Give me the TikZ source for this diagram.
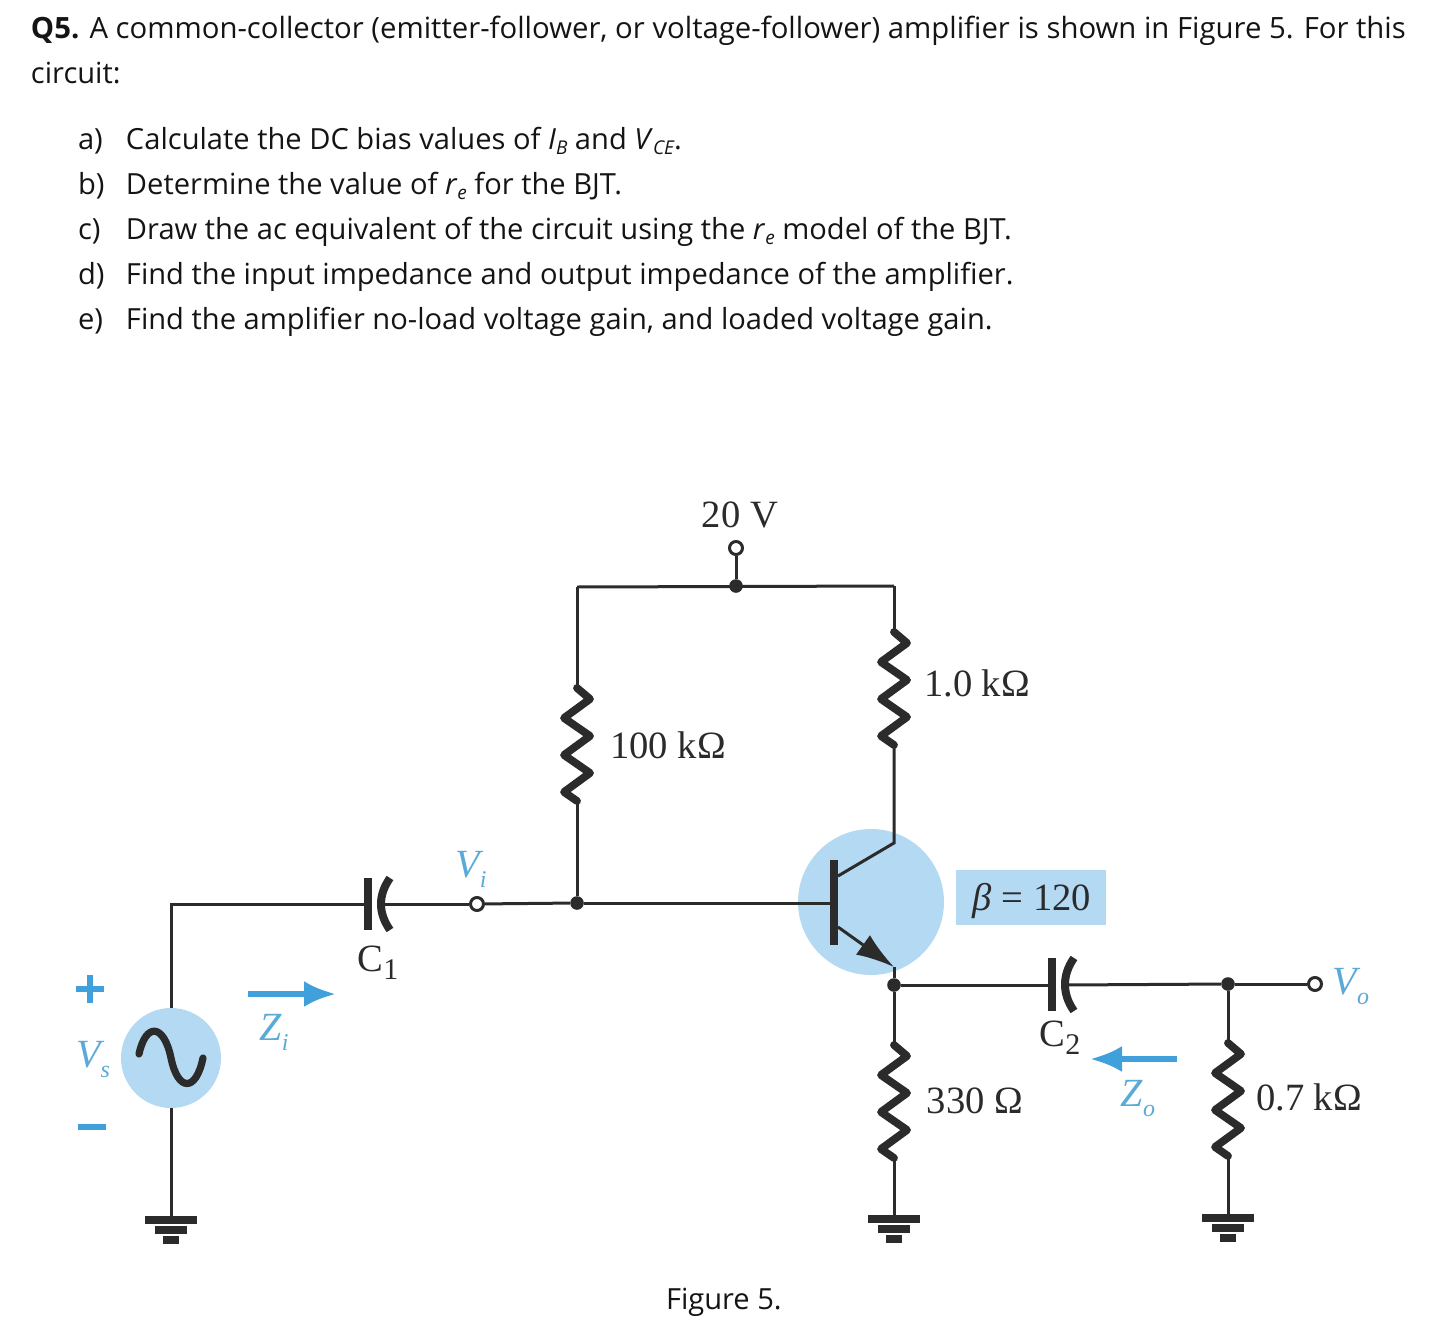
\documentclass[tikz,border=0pt]{standalone}
\usepackage{fontspec}
\setmainfont{Open Sans}
\newfontfamily\serf{Liberation Serif}
\usetikzlibrary{arrows.meta}
\definecolor{wirec}{HTML}{2B2B2B}
\definecolor{paleb}{HTML}{B4DAF3}
\definecolor{bluea}{HTML}{3FA0DC}
\definecolor{bluet}{HTML}{5AAAD8}
\newcommand{\subsm}[1]{\raisebox{-0.2em}{\fontsize{9.5}{10}\selectfont\itshape #1}}
\tikzset{
  x=0.5pt,y=-0.5pt,
  wire/.style={draw=wirec,line width=1.5pt,line join=miter},
  body/.style={anchor=base west,inner sep=0pt,outer sep=0pt,font=\fontsize{14.55}{18}\selectfont,text=black!92},
  lab/.style={inner sep=0pt,font=\serf\fontsize{19.3}{20}\selectfont,text=wirec},
  bluelab/.style={inner sep=0pt,font=\serf\fontsize{20}{20}\selectfont\itshape,text=bluet},
  dotn/.style={circle,fill=wirec,inner sep=0pt,minimum size=6.8pt},
  term/.style={circle,draw=wirec,fill=white,line width=1.5pt,inner sep=0pt,minimum size=6.5pt},
  zarrow/.style={draw=bluea,line width=2.8pt,-{Latex[length=16pt,width=13pt]}},
  plate/.style={draw=wirec,line width=4pt},
  resistor/.pic={
    \draw[draw=wirec,line width=3.9pt,line join=round,line cap=round]
      (0,0)--(13,11)--(-13,30)--(13,48)--(-13,67)--(13,85)--(-13,104)--(0,113);
    \coordinate (-t) at (0,0);
    \coordinate (-b) at (0,113);
  },
  groundsym/.pic={
    \coordinate (-t) at (0,0);
    \draw[draw=wirec,line width=4pt] (-26,0)--(26,0);
    \draw[draw=wirec,line width=4pt] (-16,10)--(16,10);
    \draw[draw=wirec,line width=4pt] (-8,20)--(8,20);
  },
}
\begin{document}
\begin{tikzpicture}
\useasboundingbox (0,0) rectangle (1432,1328);
% question text
\node[body,font=\fontsize{14.65}{18}\selectfont] (q1) at (31,38) {\textbf{Q5.} A common-collector (emitter-follower, or voltage-follower) amplifier is shown in Figure 5. For this};
\node[body] (q2) at (31,83) {circuit:};
\node[body] (la) at (78,149) {a)};
\node[body] (ta) at (126,149) {Calculate the DC bias values of \textit{I}\subsm{B} and \textit{V}\subsm{CE}.};
\node[body] (lb) at (78,194) {b)};
\node[body] (tb) at (126,194) {Determine the value of \textit{r}\subsm{e} for the BJT.};
\node[body] (lc) at (78,239) {c)};
\node[body] (tc) at (126,239) {Draw the ac equivalent of the circuit using the \textit{r}\subsm{e} model of the BJT.};
\node[body] (ld) at (78,284) {d)};
\node[body] (td) at (126,284) {Find the input impedance and output impedance of the amplifier.};
\node[body] (le) at (78,329) {e)};
\node[body] (te) at (126,329) {Find the amplifier no-load voltage gain, and loaded voltage gain.};
\node[body] (fig) at (666,1309) {Figure 5.};
% pale backgrounds
\node[circle,fill=paleb,minimum size=73pt,inner sep=0pt] (qb) at (871,902) {};
\node[circle,fill=paleb,minimum size=50pt,inner sep=0pt] (src) at (171,1058) {};
\node[fill=paleb,minimum width=75pt,minimum height=27.5pt,inner sep=0pt] (betab) at (1031,897) {};
% key points
\coordinate (tl) at (577,587);
\coordinate (tr) at (894,586);
\coordinate (wl) at (171,904);
\coordinate (c1l) at (368,904);
\coordinate (c1r) at (382,904);
\coordinate (c2l) at (1052,985);
\coordinate (c2r) at (1066,985);
\coordinate (cin) at (894,843);
\coordinate (cbar) at (838,876);
\coordinate (ebar) at (838,927);
\coordinate (etip) at (894,967);
\coordinate (bbar) at (834,903);
% junctions and terminals
\node[dotn] (dtop) at (736,586) {};
\node[term] (tvcc) at (736,548) {};
\node[dotn] (db) at (577,903) {};
\node[term] (tvi) at (477,904) {};
\node[dotn] (de) at (894,985) {};
\node[dotn] (dl) at (1228,984) {};
\node[term] (tvo) at (1315,984) {};
% resistors and grounds
\pic (rb) at (577,688) {resistor};
\pic (rc) at (894,632) {resistor};
\pic (re) at (894,1045) {resistor};
\pic (rl) at (1228,1043) {resistor};
\pic (g1) at (171,1220) {groundsym};
\pic (g2) at (894,1219) {groundsym};
\pic (g3) at (1228,1218) {groundsym};
% wiring
\draw[wire] (tl)--(tr);
\draw[wire] (dtop)--(tvcc);
\draw[wire] (tl)--(rb-t);
\draw[wire] (rb-b)--(db);
\draw[wire] (tr)--(rc-t);
\draw[wire] (rc-b)--(cin)--(cbar);
\draw[wire] (src)--(wl)--(c1l);
\draw[wire] (c1r)--(tvi);
\draw[wire] (tvi)--(db);
\draw[wire] (db)--(bbar);
\draw[wire] (src)--(g1-t);
\draw[wire] (de)--(c2l);
\draw[wire] (c2r)--(dl);
\draw[wire] (dl)--(tvo);
\draw[wire] (de)--(re-t);
\draw[wire] (re-b)--(g2-t);
\draw[wire] (dl)--(rl-t);
\draw[wire] (rl-b)--(g3-t);
\draw[wire] (etip)--(de);
\draw[wire,-{Latex[length=19pt,width=12pt]}] (ebar)--(etip);
% transistor bar
\draw[draw=wirec,line width=4.4pt] (834,860)--(834,945);
% capacitors
\draw[plate] (368,878)--(368,930);
\draw[plate] (390,878) .. controls (378,895) and (378,913) .. (390,930);
\draw[plate] (1052,958)--(1052,1011);
\draw[plate] (1074,958) .. controls (1062,975) and (1062,994) .. (1074,1011);
% source tilde
\node[inner sep=0pt] (tilde) at (171,1058) {};
\draw[draw=wirec,line width=3.6pt,line cap=round] (139,1054) .. controls (146,1022) and (164,1024) .. (171,1058) .. controls (178,1092) and (196,1092) .. (203,1058);
% blue arrows
\coordinate (zi1) at (248,994);
\coordinate (zi2) at (336,994);
\coordinate (zo1) at (1177,1059);
\coordinate (zo2) at (1090,1059);
\draw[zarrow] (zi1)--(zi2);
\draw[zarrow] (zo1)--(zo2);
% labels
\node[lab] (l20) at (740,515) {20 V};
\node[lab] (l100) at (668,745) {100 kΩ};
\node[lab] (l1k) at (977,683) {1.0 kΩ};
\node[lab] (lbeta) at (1032,901) {\textit{β} = 120};
\node[lab] (l330) at (975,1101) {330 Ω};
\node[lab] (l07) at (1309,1097) {0.7 kΩ};
\node[lab] (lc1) at (378,963) {C\raisebox{-0.2em}{\fontsize{15}{15}\selectfont 1}};
\node[lab] (lc2) at (1060,1038) {C\raisebox{-0.2em}{\fontsize{15}{15}\selectfont 2}};
\node[bluelab] (lvi) at (471,869) {V\raisebox{-0.25em}{\fontsize{12}{12}\selectfont i}};
\node[bluelab] (lvo) at (1351,987) {V\raisebox{-0.25em}{\fontsize{12}{12}\selectfont o}};
\node[bluelab] (lzi) at (274,1032) {Z\raisebox{-0.25em}{\fontsize{12}{12}\selectfont i}};
\node[bluelab] (lzo) at (1138,1099) {Z\raisebox{-0.25em}{\fontsize{12}{12}\selectfont o}};
\node[bluelab] (lvs) at (93,1060) {V\raisebox{-0.25em}{\fontsize{12}{12}\selectfont s}};
\draw[draw=bluea,line width=2.6pt] (76,989)--(104,989) (90,975)--(90,1003);
\draw[draw=bluea,line width=2.8pt] (78,1127)--(106,1127);
\end{tikzpicture}
\end{document}
